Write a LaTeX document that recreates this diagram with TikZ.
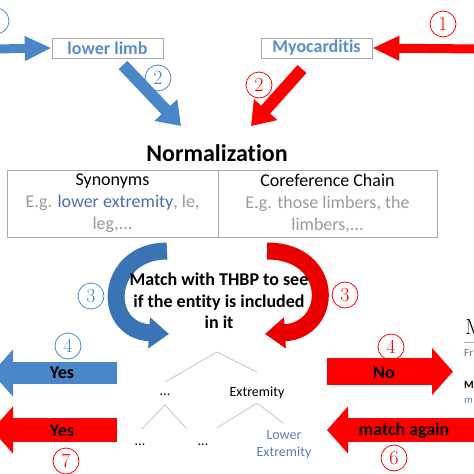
\documentclass[tikz,border=0pt]{standalone}
\usepackage{fontspec}
\setsansfont{Carlito}[Ligatures=NoCommon]
\usetikzlibrary{arrows.meta}
\definecolor{ablue}{HTML}{4A86C8}
\definecolor{cblue}{HTML}{3A74B4}
\definecolor{ared}{HTML}{FF0000}
\definecolor{cred}{HTML}{E80000}
\definecolor{tblue}{HTML}{5A8CC8}
\definecolor{dblue}{HTML}{4A6EA8}
\definecolor{lblue}{HTML}{5B7DB5}
\definecolor{tgray}{HTML}{9A9A9A}
\definecolor{lgray}{HTML}{A8A8A8}
\definecolor{treegray}{HTML}{C4C4C4}
\begin{document}
\begin{tikzpicture}[x=1pt,y=-1pt,
  lbl/.style={font=\sffamily\bfseries\fontsize{18}{22}\selectfont, inner sep=0pt},
  termbox/.style={draw=lgray, line width=0.6pt, minimum width=111pt, minimum height=20pt, inner sep=0pt, text=tblue, font=\sffamily\bfseries\fontsize{18}{20}\selectfont},
  circnum/.style={circle, draw=#1, text=#1, line width=0.8pt, minimum size=26pt, inner sep=0pt, font=\fontsize{20}{20}\selectfont},
  thinarrow/.style={line width=9pt, -{Triangle[length=27pt,width=23pt]}},
  diagarrow/.style={line width=12pt, -{Triangle[length=22pt,width=30pt]}},
  fatarrow/.style={line width=#1, -{Triangle[length=21pt,width=46pt]}},
  curvarrow/.style={line width=17pt, -{Triangle[length=20pt,width=30pt]}},
  cell/.style={draw=lgray, line width=0.6pt, minimum height=67pt, inner sep=0pt, align=center, font=\sffamily\fontsize{18}{22}\selectfont},
  treeline/.style={draw=treegray, line width=0.8pt},
  treetext/.style={font=\sffamily\fontsize{14}{17}\selectfont, inner sep=0pt}
]
\useasboundingbox (0,0) rectangle (474,474);
\clip (0,0) rectangle (474,474);

% top terms
\node[termbox] (ll) at (107.5,48) {lower limb};
\node[termbox] (myo) at (316.5,48) {Myocarditis};
\coordinate (b1s) at (-5,49);
\coordinate (r1s) at (480,49);
\draw[thinarrow, ablue] (b1s) -- (ll.west);
\draw[thinarrow, ared] (r1s) -- (myo.east);
\node[circnum=ablue] (c1b) at (-4,21) {1};
\node[circnum=ared] (c1r) at (443,24) {1};

% step 2
\coordinate (b2s) at (123,65);
\coordinate (b2e) at (181,126);
\coordinate (r2s) at (302,69);
\coordinate (r2e) at (251,126);
\draw[diagarrow, ablue] (b2s) -- (b2e);
\draw[diagarrow, ared] (r2s) -- (r2e);
\node[circnum=ablue] (c2b) at (158,78) {2};
\node[circnum=ared] (c2r) at (259,85) {2};

% normalization
\node[font=\sffamily\bfseries\fontsize{24}{28}\selectfont] (norm) at (217,153) {Normalization};
\node[cell, minimum width=211pt] (syn) at (112.5,203.5) {Synonyms\\\textcolor{tgray}{E.g. \textcolor{dblue}{lower extremity}, le,}\\\textcolor{tgray}{leg,...}};
\node[cell, minimum width=219pt] (cor) at (327.5,203.5) {Coreference Chain\\\textcolor{tgray}{E.g. those limbers, the}\\\textcolor{tgray}{limbers,...}};

% step 3
\coordinate (c1s) at (167,251);
\coordinate (c1e) at (169,334);
\coordinate (c2s) at (267,251);
\coordinate (c2e) at (265,334);
\draw[curvarrow, cblue] (c1s) .. controls (105,251) and (100,330) .. (c1e);
\draw[curvarrow, cred] (c2s) .. controls (335,251) and (335,330) .. (c2e);
\node[circnum=ablue] (c3b) at (91,296) {3};
\node[circnum=ared] (c3r) at (345,295) {3};
\node[lbl, align=center, font=\sffamily\bfseries\fontsize{18}{21.5}\selectfont] (match) at (219,301) {Match with THBP to see\\if the entity is included\\in it};

% tree
\coordinate (root) at (217,352);
\node[treetext] (dA) at (165,395) {...};
\node[treetext] (ext) at (257,393) {Extremity};
\node[treetext] (dB) at (140,445) {...};
\node[treetext] (dC) at (203,445) {...};
\node[treetext, text=lblue, align=center] (lext) at (284,445) {Lower\\Extremity};
\coordinate (rl) at (165,382);
\coordinate (rr) at (257,372);
\coordinate (aA) at (165,405);
\coordinate (aAl) at (142,429);
\coordinate (aAr) at (187,429);
\coordinate (aE) at (257,403);
\coordinate (aEl) at (217,428);
\coordinate (aEr) at (283,423);
\draw[treeline] (rl) -- (root) -- (rr);
\draw[treeline] (aAl) -- (aA) -- (aAr);
\draw[treeline] (aEl) -- (aE) -- (aEr);

% step 4 / 7 (left)
\coordinate (y1s) at (117,373);
\coordinate (y1e) at (-8,373);
\coordinate (y2s) at (117,430);
\coordinate (y2e) at (-8,430);
\draw[fatarrow=22pt, ablue] (y1s) -- (y1e);
\draw[fatarrow=24pt, ared] (y2s) -- (y2e);
\node[lbl] (yes1) at (62,373) {Yes};
\node[lbl] (yes2) at (62,431) {Yes};
\node[circnum=ablue] (c4b) at (68,346) {4};
\node[circnum=ared] (c7r) at (66,461) {7};

% step 4 / 6 (right)
\coordinate (nos) at (327,371.5);
\coordinate (noe) at (453,371.5);
\coordinate (mas) at (480,430);
\coordinate (mae) at (327,430);
\draw[fatarrow=27pt, ared] (nos) -- (noe);
\draw[fatarrow=24pt, ared] (mas) -- (mae);
\node[lbl] (no) at (384,373) {No};
\node[lbl] (again) at (404,431) {match again};
\node[circnum=ared] (c4r) at (391,347) {4};
\node[circnum=ared] (c6r) at (394,458) {6};

% fragment of neighbouring figure at right edge
\node[anchor=west, inner sep=0pt, font=\fontsize{22}{22}\selectfont] (fm) at (465,327) {M};
\coordinate (fl1) at (464,342);
\coordinate (fl2) at (480,342);
\draw[lgray, line width=0.6pt] (fl1) -- (fl2);
\node[anchor=west, inner sep=0pt, text=tgray!70!black, font=\sffamily\fontsize{11}{11}\selectfont] (ffr) at (464,353) {Fr};
\node[anchor=west, inner sep=0pt, font=\sffamily\bfseries\fontsize{11}{11}\selectfont] (fmb) at (464,385) {M};
\node[anchor=west, inner sep=0pt, text=tblue, font=\sffamily\fontsize{11}{11}\selectfont] (fmm) at (464,401) {m};
\end{tikzpicture}
\end{document}
